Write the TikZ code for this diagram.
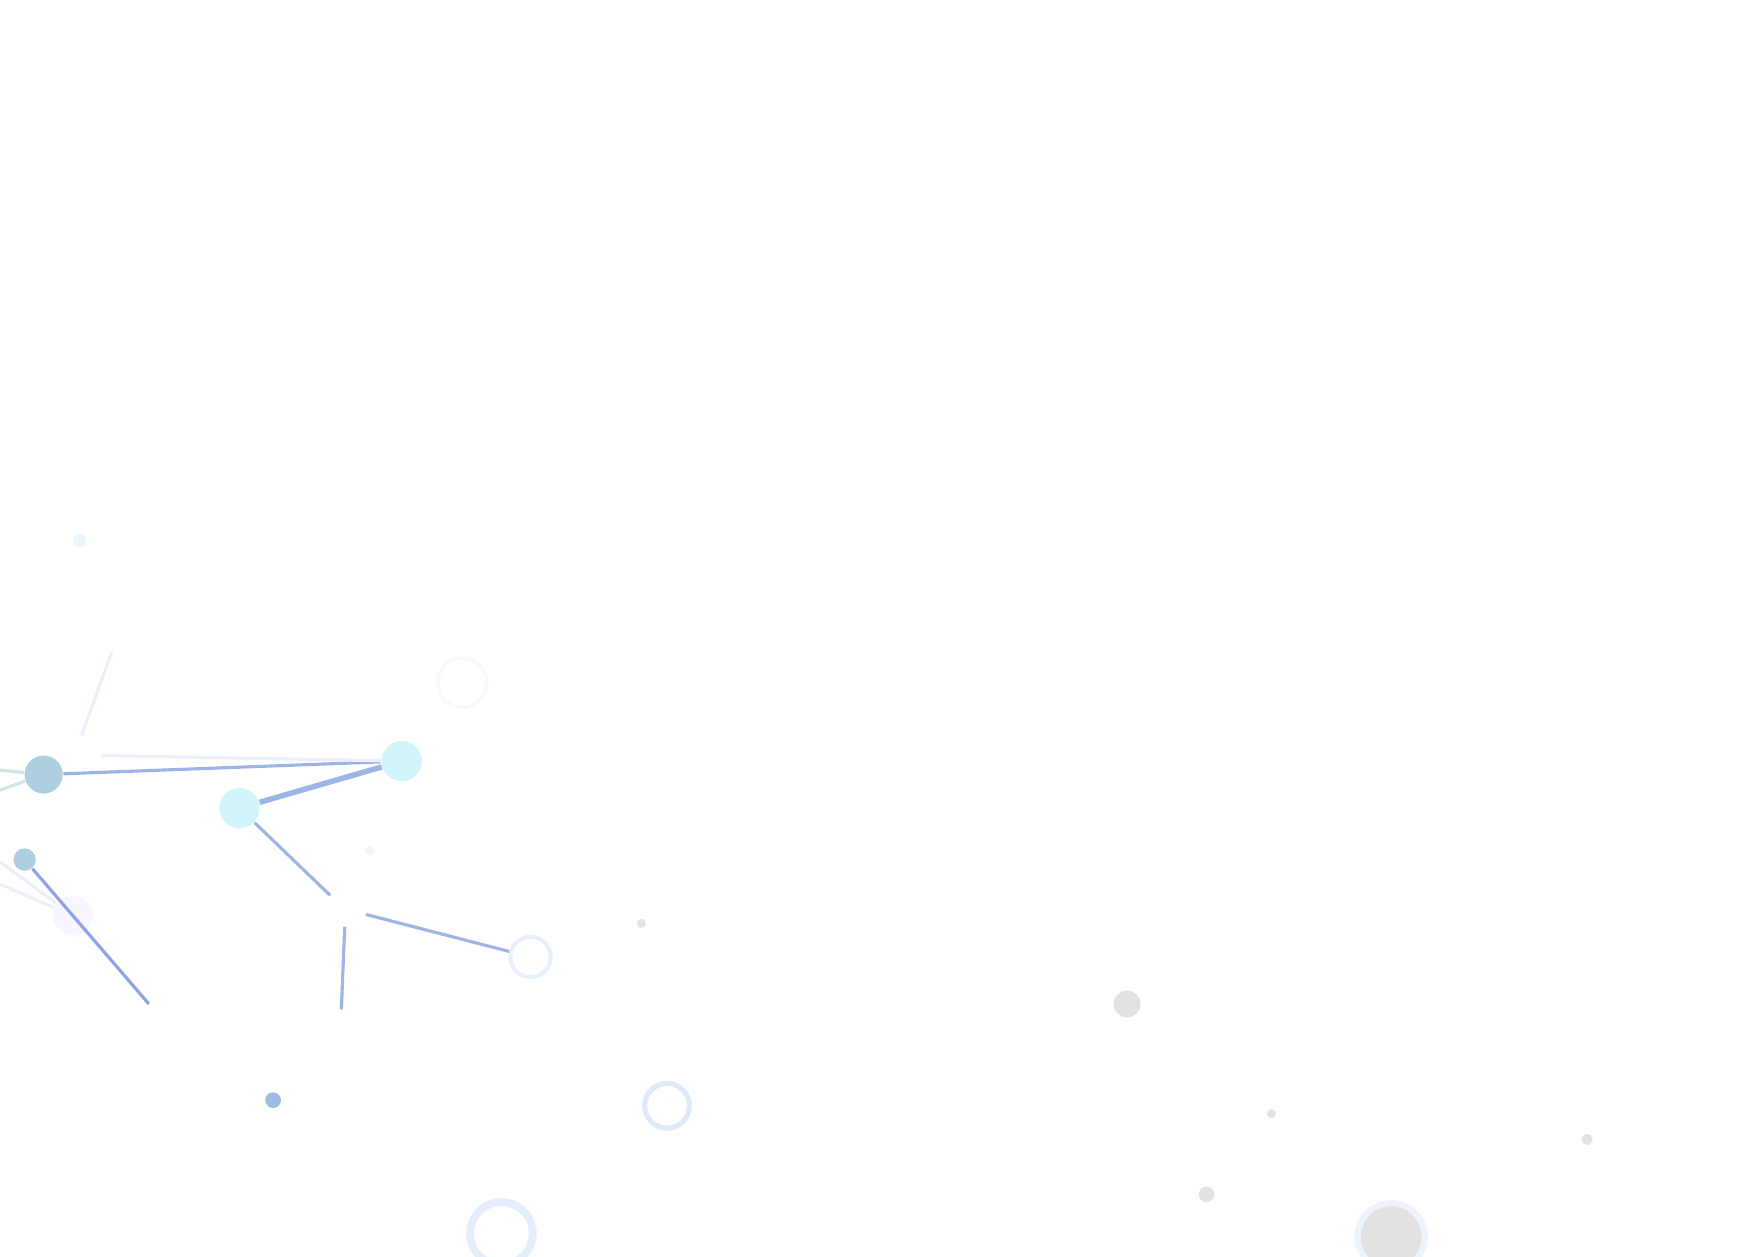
\documentclass[tikz,border=0pt]{standalone}
\usetikzlibrary{positioning}
\definecolor{steel}{HTML}{AECFE0}
\definecolor{aqua}{HTML}{D2F5FB}
\definecolor{link}{HTML}{9FB4E6}
\definecolor{halo}{HTML}{DDEAFB}
\definecolor{ash}{HTML}{E2E2E2}
\tikzstyle{dot} = [circle, inner sep=0pt, draw=none]
\tikzstyle{ring} = [circle, inner sep=0pt, fill=none, line width=1pt]
\tikzstyle{edge} = [link, line width=0.8pt]
\tikzstyle{faint} = [link!20, line width=0.8pt]

\begin{document}
\begin{tikzpicture}[x=0.01cm, y=-0.01cm]
	\useasboundingbox (0,0) rectangle (1560,1123);
	% Place nodes
	\node [dot, fill=steel, minimum size=0.34cm] (Hub) at (39,692) {};
	\node [dot, fill=aqua, minimum size=0.36cm] (Right) at (359,680) {};
	\node [dot, fill=aqua, minimum size=0.36cm] (Mid) at (214,722) {};
	\node [dot, fill=steel, minimum size=0.2cm] (Low) at (22,768) {};
	\node [ring, draw=halo!70, minimum size=0.36cm] (Open) at (474,855) {};
	\node [dot, fill=blue!3, minimum size=0.36cm] (Mist) at (65,818) {};
	\node [ring, draw=gray!5, minimum size=0.44cm] (Ghost) at (413,610) {};
	\node [dot, fill=halo!50, minimum size=0.12cm] (Top) at (71,483) {};
	\node [dot, fill=gray!8, minimum size=0.08cm] (Speck) at (330,760) {};
	\node [dot, fill=ash, minimum size=0.08cm] (Grain) at (573,825) {};
	\node [dot, fill=steel!90!blue, minimum size=0.14cm] (Bead) at (244,983) {};
	\node [ring, draw=halo, line width=1.3pt, dash pattern=on 40pt off 3pt, minimum size=0.4cm] (Loop) at (596,988) {};
	\node [ring, draw=halo!80, line width=2pt, minimum size=0.56cm] (Wheel) at (448,1102) {};
	\node [dot, fill=ash, minimum size=0.24cm] (Pebble) at (1007,897) {};
	\node [dot, fill=ash, minimum size=0.08cm] (Seed) at (1136,995) {};
	\node [dot, fill=ash, minimum size=0.14cm] (Grit) at (1078,1067) {};
	\node [dot, fill=ash, minimum size=0.1cm] (Mote) at (1418,1018) {};
	\node [dot, fill=ash, draw=halo!50, line width=1.6pt, minimum size=0.6cm] (Stone) at (1243,1105) {};
	\coordinate (MidEnd) at (295,800);
	\coordinate (LowEnd) at (133,897);
	\coordinate (BarA) at (327,817);
	\coordinate (PostA) at (308,828);
	\coordinate (PostB) at (305,902);
	\coordinate (WispA) at (90,675);
	\coordinate (WispB) at (100,582);
	\coordinate (WispC) at (73,657);
	\coordinate (EdgeA) at (0,688);
	\coordinate (EdgeB) at (0,706);
	\coordinate (EdgeC) at (0,790);
	\coordinate (EdgeD) at (0,770);
	% Draw edges
	\draw [edge] (Hub) -- (Right);
	\draw [edge, line width=1.4pt] (Mid) -- (Right);
	\draw [edge] (Mid) -- (MidEnd);
	\draw [edge, link!90!blue] (Low) -- (LowEnd);
	\draw [edge] (BarA) -- (Open);
	\draw [edge] (PostA) -- (PostB);
	\draw [faint] (WispA) -- (Right);
	\draw [faint] (WispB) -- (WispC);
	\draw [faint, teal!20] (Hub) -- (EdgeA);
	\draw [faint, teal!20] (Hub) -- (EdgeB);
	\draw [faint] (Mist) -- (EdgeC);
	\draw [faint] (Mist) -- (EdgeD);
\end{tikzpicture}
\end{document}
